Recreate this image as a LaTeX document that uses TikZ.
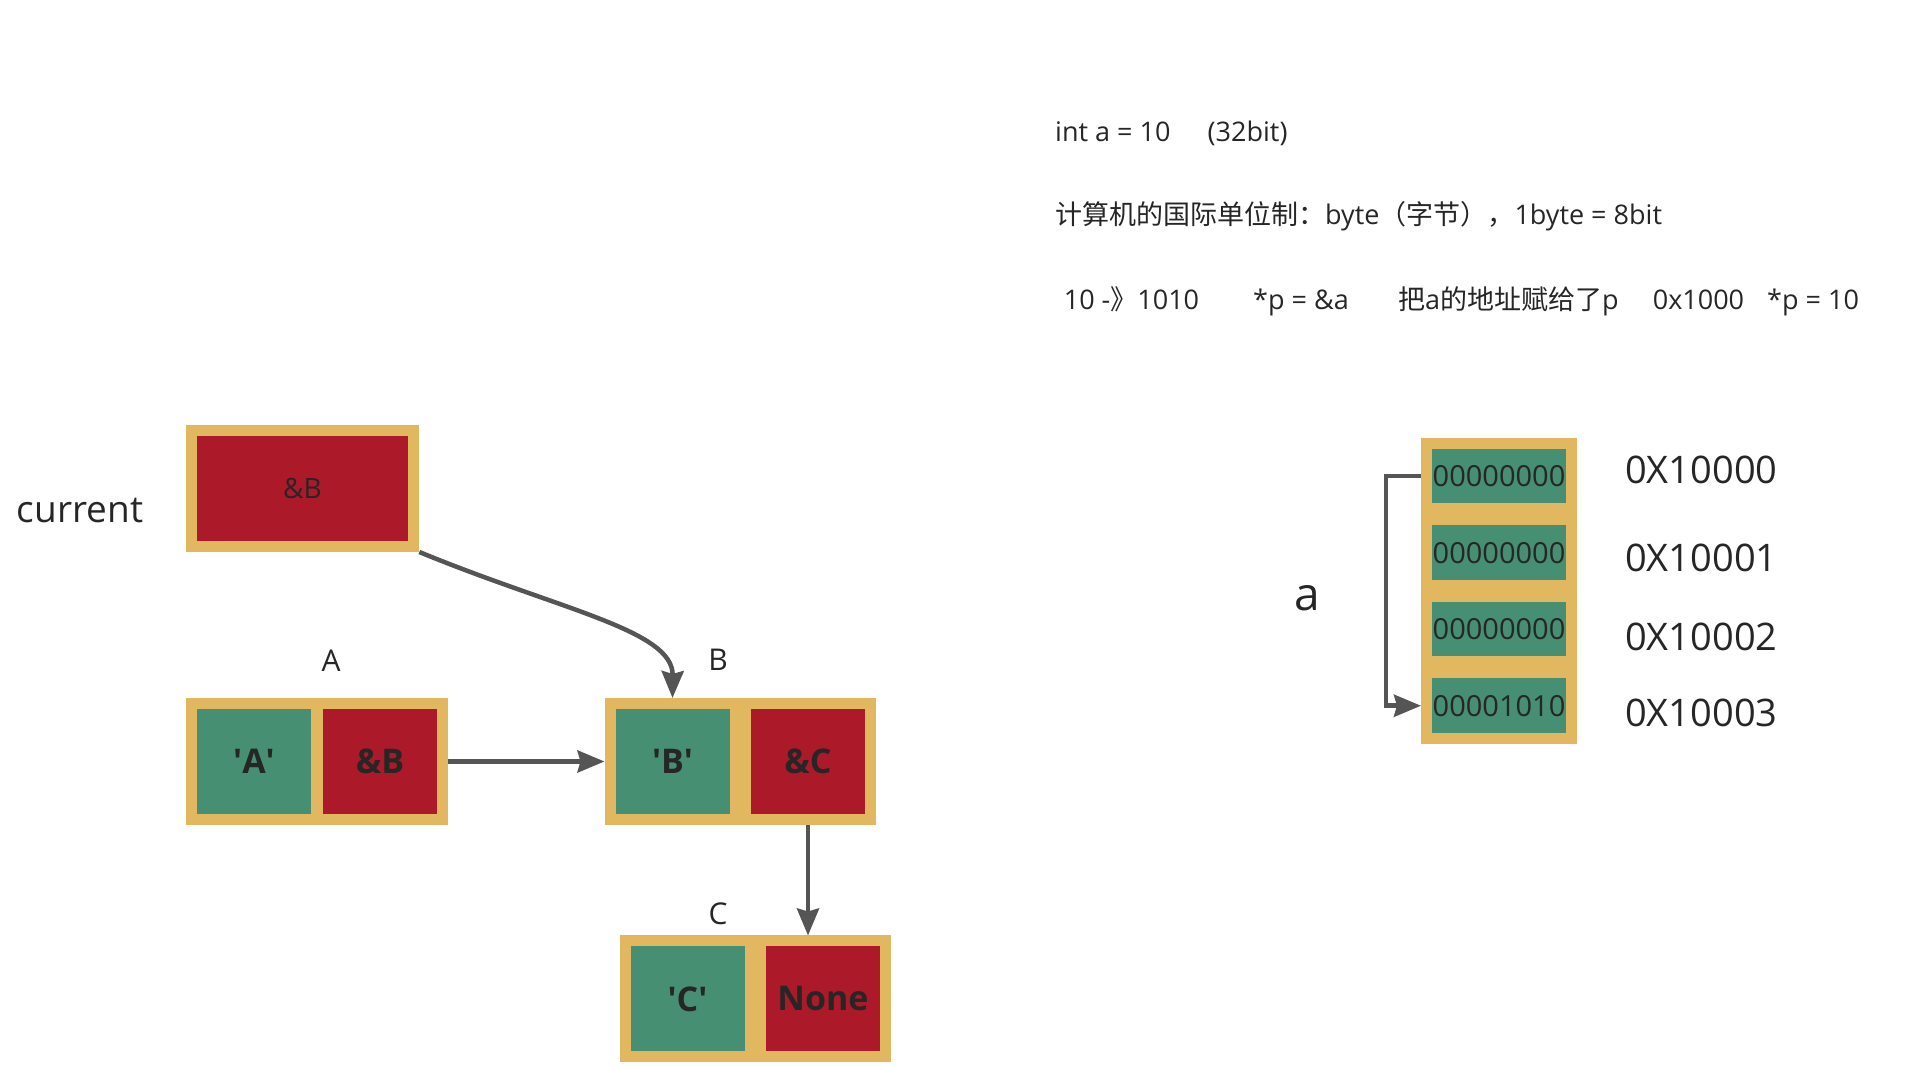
\documentclass[tikz,border=0pt]{standalone}
\usepackage{fontspec}
\setmainfont{Open Sans}
\newfontfamily\cjk{Noto Sans CJK SC}
\usepackage{xcolor}
\usetikzlibrary{arrows.meta,positioning}
\definecolor{gold}{HTML}{E1B75F}
\definecolor{cellgreen}{HTML}{468F73}
\definecolor{cellred}{HTML}{AC1A2A}
\definecolor{wire}{HTML}{555555}
\definecolor{ink}{HTML}{262626}

\begin{document}
\begin{tikzpicture}[x=1pt,y=1pt,
  cell/.style={draw=gold,line width=11pt,outer sep=5.5pt,inner sep=0pt,
    minimum width=125pt,minimum height=116pt,text=ink,
    font=\fontsize{34}{40}\selectfont\bfseries},
  valcell/.style={cell,fill=cellgreen},
  ptrcell/.style={cell,fill=cellred},
  bytecell/.style={draw=gold,line width=11pt,outer sep=5.5pt,inner sep=0pt,fill=cellgreen,
    minimum width=145pt,minimum height=65.5pt,text=ink,font=\fontsize{29}{34}\selectfont},
  link/.style={draw=wire,line width=4.5pt,-{Stealth[length=27pt,width=22pt,inset=3pt]}},
  note/.style={anchor=base west,inner sep=0pt,text=ink,font=\fontsize{27}{32}\selectfont},
  tag/.style={text=ink,font=\fontsize{30}{36}\selectfont},
  addr/.style={anchor=west,inner sep=0pt,text=ink,font=\fontsize{38}{44}\selectfont}]
\useasboundingbox (0,0) rectangle (1928,1067);

\node[note] (n1a) at (1055,925) {int a = 10};
\node[note] (n1b) at (1207.5,925) {(32bit)};
\node[note] (n2) at (1055,842) {{\cjk 计算机的国际单位制：}byte{\cjk （字节），}1byte = 8bit};
\node[note] (n3a) at (1063.6,757) {10 -{\cjk 》}1010};
\node[note] (n3b) at (1253,757) {*p = \&a};
\node[note] (n3c) at (1398,757) {{\cjk 把}a{\cjk 的地址赋给了}p};
\node[note] (n3d) at (1652.6,757) {0x1000};
\node[note] (n3e) at (1767,757) {*p = 10};

\node[tag,font=\fontsize{37}{44}\selectfont] (curlabel) at (80,557) {current};
\node[ptrcell,minimum width=222.6pt,minimum height=115.6pt,font=\fontsize{28}{34}\selectfont] (cur) at (302.5,578.3) {\&B};

\node[tag] (Alabel) at (331,406.7) {A};
\node[tag] (Blabel) at (718,407) {B};
\node[tag] (Clabel) at (718,153.4) {C};

\node[valcell] (Aval) at (254,305.5) {\textquotesingle A\textquotesingle};
\node[ptrcell] (Aptr) at (380,305.5) {\&B};
\node[valcell] (Bval) at (672.5,305.5) {\textquotesingle B\textquotesingle};
\node[ptrcell] (Bptr) at (808,305.5) {\&C};
\node[valcell] (Cval) at (687.5,68) {\textquotesingle C\textquotesingle};
\node[ptrcell] (Cptr) at (823,68) {None};

\draw[link] (cur.south east) .. controls (560,457) and (673,437) .. (Bval.north);
\draw[link] (Aptr.east) -- (Bval.west);
\draw[link] (Bptr.south) -- (Bptr.south |- Cptr.north);

\node[tag,font=\fontsize{46}{52}\selectfont] (avar) at (1307,469) {a};
\node[bytecell] (m0) at (1499,590.75) {00000000};
\node[bytecell] (m1) at (1499,514.25) {00000000};
\node[bytecell] (m2) at (1499,437.75) {00000000};
\node[bytecell] (m3) at (1499,361.25) {00001010};
\node[addr] (a0) at (1625,597) {0X10000};
\node[addr] (a1) at (1625,509) {0X10001};
\node[addr] (a2) at (1625,430) {0X10002};
\node[addr] (a3) at (1625,354) {0X10003};
\draw[link] (m0.west) -- ++(-35,0) |- (m3.west);
\end{tikzpicture}
\end{document}
